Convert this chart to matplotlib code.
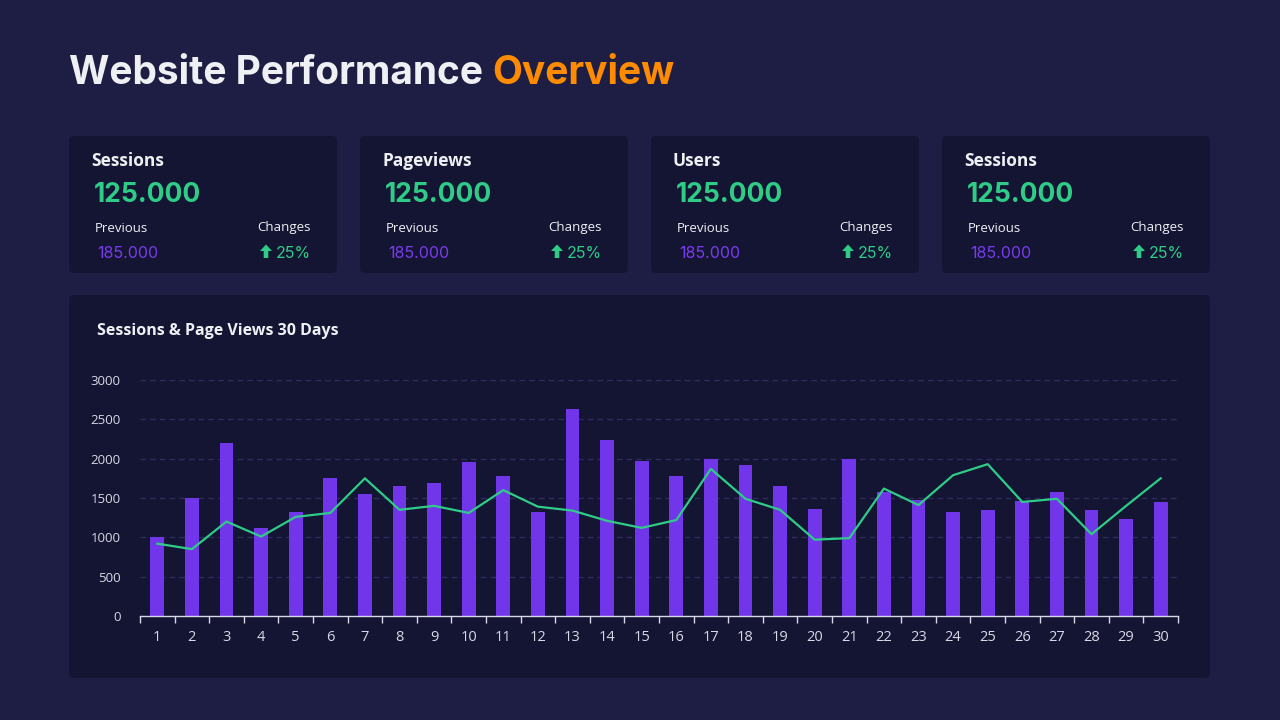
import matplotlib.pyplot as plt
import numpy as np
from matplotlib.patches import FancyBboxPatch

# data
days = list(range(1, 31))
sessions = [1000, 1500, 2200, 1120, 1320, 1750, 1550, 1650, 1690, 1960,
            1780, 1320, 2630, 2240, 1970, 1780, 1990, 1920, 1650, 1360,
            1990, 1570, 1470, 1320, 1350, 1460, 1580, 1350, 1230, 1450]
pageviews = [920, 850, 1200, 1010, 1260, 1310, 1750, 1350, 1400, 1310,
             1600, 1390, 1340, 1210, 1120, 1220, 1870, 1490, 1350, 970,
             990, 1620, 1410, 1790, 1930, 1450, 1490, 1040, 1400, 1750]
yticks = [0, 500, 1000, 1500, 2000, 2500, 3000]

card_titles = ['Sessions', 'Pageviews', 'Users', 'Sessions']
card_values = ['125.000', '125.000', '125.000', '125.000']
card_prev = ['185.000', '185.000', '185.000', '185.000']
card_change = ['25%', '25%', '25%', '25%']

BG = '#1e1e44'
PANEL = '#141433'
PURPLE = '#7236ea'
GREEN = '#2ecc87'
ORANGE = '#ff8c00'
WHITE = '#eef0f4'
GRID = '#2e2d5c'

fig = plt.figure(figsize=(12.8, 7.2), dpi=100, facecolor=BG)

# background layer in pixel coords
bg = fig.add_axes([0, 0, 1, 1])
bg.set_xlim(0, 1280)
bg.set_ylim(720, 0)
bg.axis('off')
bg.set_facecolor(BG)

t = bg.text(69, 74, 'Website Performance ', fontsize=28, fontweight='bold',
            family='Inter', color=WHITE, va='center', ha='left')
fig.canvas.draw()
bb = t.get_window_extent()
bg.annotate('Overview', xy=(bb.x1, (bb.y0 + bb.y1) / 2), xycoords='figure pixels',
            fontsize=28, fontweight='bold', family='Inter', color=ORANGE,
            va='center', ha='left')


def panel(x0, y0, x1, y1):
    p = FancyBboxPatch((x0, y0), x1 - x0, y1 - y0,
                       boxstyle='round,pad=0,rounding_size=5',
                       facecolor=PANEL, edgecolor='none')
    bg.add_patch(p)


card_x = [69, 360, 651, 942]
for i, cx in enumerate(card_x):
    panel(cx, 136, cx + 268, 273)
    bg.text(cx + 22, 161, card_titles[i], fontsize=12.5, fontweight='bold',
            family='Open Sans', color=WHITE, va='center')
    bg.text(cx + 25, 195, card_values[i], fontsize=19, fontweight='bold',
            family='Inter', color=GREEN, va='center')
    bg.text(cx + 26, 228, 'Previous', fontsize=9.5, family='Open Sans',
            color=WHITE, va='center')
    bg.text(cx + 242, 228, 'Changes', fontsize=9.5, family='Open Sans',
            color=WHITE, va='center', ha='right')
    bg.text(cx + 28, 253, card_prev[i], fontsize=11.5, family='Inter',
            color='#7a3cf0', va='center')
    bg.text(cx + 242, 253, card_change[i], fontsize=11.5, family='Inter',
            color=GREEN, va='center', ha='right')
    # up arrow
    ax0 = cx + 197
    bg.fill([ax0 - 6, ax0, ax0 + 6, ax0 + 2.3, ax0 + 2.3, ax0 - 2.3, ax0 - 2.3],
            [251, 244.5, 251, 251, 258, 258, 251], color=GREEN, lw=0)

panel(69, 295, 1210, 678)
bg.text(97, 331, 'Sessions & Page Views 30 Days', fontsize=11.5,
        fontweight='bold', family='Open Sans', color=WHITE, va='center')

# chart
ax = fig.add_axes([140 / 1280, (720 - 616) / 720, 1038 / 1280, 236 / 720])
ax.set_facecolor('none')
ax.bar(days, sessions, width=0.4, color=PURPLE, zorder=2)
ax.plot(days, pageviews, color=GREEN, lw=1.6, zorder=3)

ax.set_xlim(0.5, 30.5)
ax.set_ylim(0, 3000)
ax.set_yticks(yticks)
ax.set_xticks(days)
ax.set_xticks(np.arange(0.5, 31, 1), minor=True)
ax.grid(axis='y', color=GRID, ls=(0, (4, 3)), lw=1, zorder=0)
for s in ['top', 'right', 'left']:
    ax.spines[s].set_visible(False)
ax.spines['bottom'].set_color('#d8d8e6')
ax.spines['bottom'].set_linewidth(1)
ax.tick_params(axis='x', which='major', length=0, pad=10, labelsize=10.5,
               labelcolor='#d8d8e6')
ax.tick_params(axis='x', which='minor', length=5, color='#d8d8e6', width=1)
ax.tick_params(axis='y', length=0, pad=14, labelsize=9.5, labelcolor='#d8d8e6')
for lab in ax.get_xticklabels() + ax.get_yticklabels():
    lab.set_family('Open Sans')

fig.savefig('out.png', dpi=100, facecolor=BG)
